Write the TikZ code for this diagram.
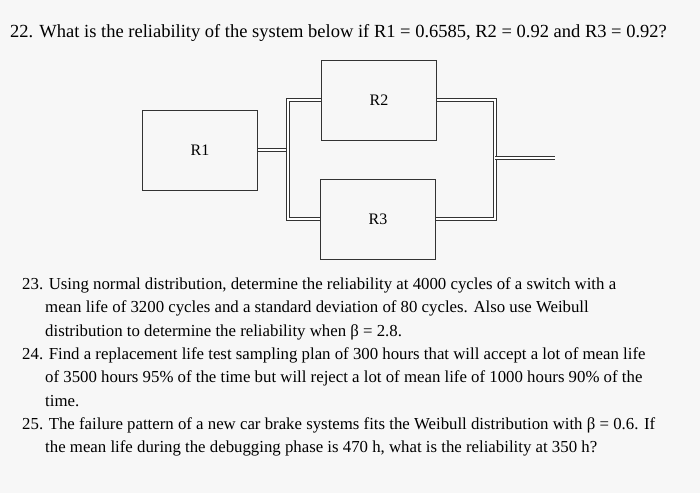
\documentclass[tikz,border=0pt]{standalone}
\usepackage{fontspec}
\setmainfont{Liberation Serif}
\begin{document}
\begin{tikzpicture}[x=1pt,y=-1pt,
  blk/.style={draw=black!80,line width=0.9pt,minimum width=115pt,minimum height=80pt,font=\fontsize{16}{16}\selectfont},
  wire/.style={draw=black!80,double=white,double distance=1.6pt,line width=1pt},
  txt/.style={anchor=base west,inner sep=0pt,font=\fontsize{16.8}{18}\selectfont}]
\fill[black!3] (0,0) rectangle (700,493);
\useasboundingbox (0,0) rectangle (700,493);
\node[txt,font=\fontsize{18.5}{20}\selectfont] (q22) at (10,37) {22. What is the reliability of the system below if R1 = 0.6585, R2 = 0.92 and R3 = 0.92?};
\node[blk] (r1) at (200,150) {R1};
\node[blk] (r2) at (379,100) {R2};
\node[blk] (r3) at (378,219) {R3};
\coordinate (a) at (288,150);
\coordinate (b) at (495,158);
\coordinate (out) at (555,158);
\draw[wire] (r1.east) -- (a);
\draw[wire] (r2.west) -| (a) |- (r3.west);
\draw[wire] (r2.east) -| (b) |- (r3.east);
\draw[wire] (b) -- (out);
\node[txt] (l1) at (22,289) {23. Using normal distribution, determine the reliability at 4000 cycles of a switch with a};
\node[txt] (l2) at (45,312) {mean life of 3200 cycles and a standard deviation of 80 cycles. Also use Weibull};
\node[txt] (l3) at (45,336) {distribution to determine the reliability when β = 2.8.};
\node[txt] (l4) at (22,359) {24. Find a replacement life test sampling plan of 300 hours that will accept a lot of mean life};
\node[txt] (l5) at (45,382) {of 3500 hours 95\% of the time but will reject a lot of mean life of 1000 hours 90\% of the};
\node[txt] (l6) at (45,406) {time.};
\node[txt] (l7) at (22,429) {25. The failure pattern of a new car brake systems fits the Weibull distribution with β = 0.6. If};
\node[txt] (l8) at (45,452) {the mean life during the debugging phase is 470 h, what is the reliability at 350 h?};
\end{tikzpicture}
\end{document}
